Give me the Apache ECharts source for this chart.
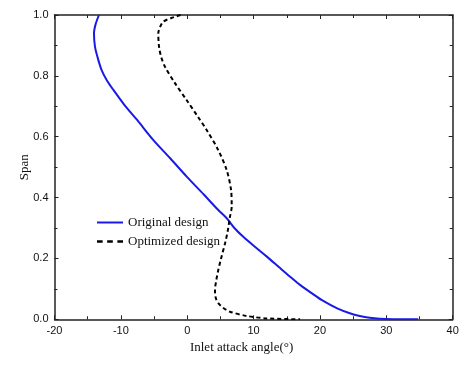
<!DOCTYPE html>
<html><head><meta charset="utf-8">
<script src="https://cdn.jsdelivr.net/npm/echarts@6/dist/echarts.min.js"></script>
<style>html,body{margin:0;padding:0;background:#fff}#c{width:474px;height:366px}</style>
</head><body><div id="c"></div>
<script>
var originalSpan = [1.0,0.97,0.94,0.896,0.86,0.819,0.785,0.753,0.704,0.655,0.589,0.53,0.469,0.41,0.359,0.332,0.3,0.271,0.24,0.206,0.17,0.14,0.113,0.085,0.063,0.036,0.02,0.011,0.005,0.002,0.0005,0];
var originalAngle = [-13.3,-13.8,-14.05,-13.9,-13.5,-12.9,-12.1,-11.1,-9.45,-7.55,-5.1,-2.6,-0.08,2.5,4.68,5.95,7.1,8.45,10.1,12.0,13.9,15.5,17.0,18.8,20.3,22.6,24.5,26.0,27.5,29.0,31.0,34.8];
var optimizedSpan = [1.0,0.99,0.978,0.96,0.94,0.896,0.86,0.83,0.776,0.72,0.666,0.622,0.556,0.49,0.425,0.37,0.337,0.29,0.25,0.2,0.162,0.125,0.096,0.07,0.053,0.038,0.025,0.011,0.003,0];
var optimizedAngle = [-1.0,-2.4,-3.6,-4.1,-4.36,-4.25,-3.9,-3.35,-1.85,-0.08,1.6,2.93,4.68,5.95,6.6,6.7,6.44,6.1,5.7,5.1,4.68,4.35,4.18,4.3,4.68,5.4,6.44,8.96,12,17];
var xTicks = [-20,-10,0,10,20,30,40];
var yTicks = [0.0,0.2,0.4,0.6,0.8,1.0];

function pairs(xs, ys){ return xs.map(function(x,i){return [x, ys[i]];}); }
var axisLine = {show:true, onZero:false, lineStyle:{color:'#222', width:1.5}};
var tick = {inside:true, length:4, lineStyle:{color:'#222'}};
var minor = {show:true, splitNumber:2, length:3, lineStyle:{color:'#222'}};
var solidIcon = 'path://M0,0h26v2h-26z';
var dashIcon = 'path://M0,0h5v2h-5z M9,0h5v2h-5z M18,0h5v2h-5z';
var chart = echarts.init(document.getElementById('c'));
chart.setOption({
  animation:false,
  grid:{left:54.5, right:21.3, top:15, bottom:46.7},
  legend:{
    left:92, top:211, orient:'vertical', itemGap:6,
    textStyle:{fontFamily:'Liberation Serif', fontSize:13, color:'#111'},
    data:[{name:'Original design', icon:solidIcon, itemWidth:26, itemHeight:2},
          {name:'Optimized design', icon:dashIcon, itemWidth:23, itemHeight:2}],
    itemWidth:26, itemHeight:10
  },
  xAxis:[{
    type:'value', min:-20, max:40, interval:10, position:'bottom',
    name:'Inlet attack angle(°)', nameLocation:'middle', nameGap:19,
    nameTextStyle:{fontFamily:'Liberation Serif', fontSize:13, color:'#111', padding:[0,24,0,0]},
    axisLine:axisLine, axisTick:tick, minorTick:minor,
    axisLabel:{fontFamily:'Liberation Sans', fontSize:11, color:'#111', margin:6, formatter:function(v){return xTicks.indexOf(v)>=0?String(v):'';}},
    splitLine:{show:false}
  },{
    type:'value', min:-20, max:40, interval:10, position:'top',
    axisLine:axisLine, axisTick:tick, minorTick:minor,
    axisLabel:{show:false}, splitLine:{show:false}
  }],
  yAxis:[{
    type:'value', min:0, max:1, interval:0.2, position:'left',
    name:'Span', nameLocation:'middle', nameGap:23, nameRotate:90, nameMoveOverlap:false,
    nameTextStyle:{fontFamily:'Liberation Serif', fontSize:13, color:'#111'},
    axisLine:axisLine, axisTick:tick, minorTick:minor,
    axisLabel:{fontFamily:'Liberation Sans', fontSize:11, color:'#111', margin:6, formatter:function(v){return v.toFixed(1);}},
    splitLine:{show:false}
  },{
    type:'value', min:0, max:1, interval:0.2, position:'right',
    axisLine:axisLine, axisTick:tick, minorTick:minor,
    axisLabel:{show:false}, splitLine:{show:false}
  }],
  series:[{
    name:'Original design', type:'line', smooth:0.3, symbol:'none',
    lineStyle:{color:'#1a1ae6', width:2}, itemStyle:{color:'#1a1ae6'},
    data:pairs(originalAngle, originalSpan)
  },{
    name:'Optimized design', type:'line', smooth:0.3, symbol:'none',
    lineStyle:{color:'#000', width:2, type:[4,3]}, itemStyle:{color:'#000'},
    data:pairs(optimizedAngle, optimizedSpan)
  }]
});
</script></body></html>
